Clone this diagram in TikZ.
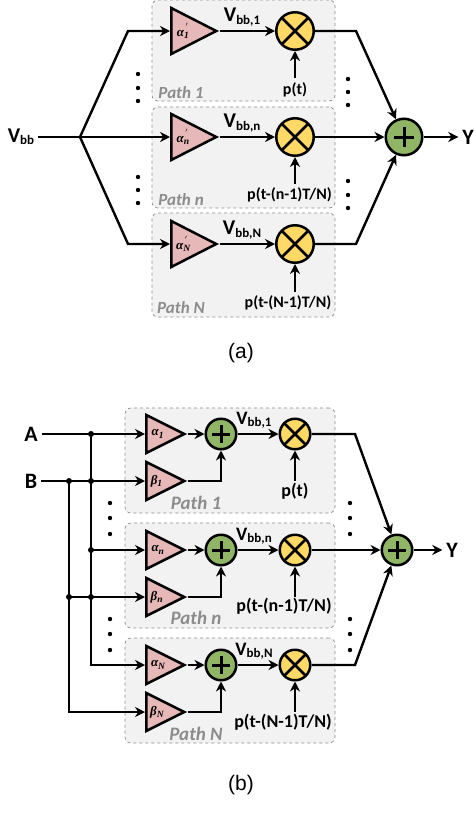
\documentclass[tikz,border=0pt]{standalone}
\usepackage{fontspec}
\setmainfont{Carlito}
\newfontfamily\capfont{Liberation Sans}
\newfontfamily\symfont{Liberation Serif}
\usetikzlibrary{arrows.meta, shapes.geometric}
\definecolor{boxfill}{HTML}{F2F2F2}
\definecolor{boxedge}{HTML}{8C8C8C}
\definecolor{gainfill}{HTML}{E6B8B7}
\definecolor{mixfill}{HTML}{FFD966}
\definecolor{sumfill}{HTML}{8FB565}
\newcommand{\vsig}[1]{V{\fontsize{13}{14}\selectfont\raisebox{-0.35ex}{#1}}}
\newcommand{\gsub}[1]{\raisebox{-0.4ex}{\fontsize{9.5}{10}\selectfont #1}}
\newcommand{\galpha}[1]{{\symfont\bfseries\itshape α\gsub{#1}}}
\newcommand{\gbeta}[1]{{\symfont\bfseries\itshape β\gsub{#1}}}
\newcommand{\gprime}[1]{{\symfont\bfseries\itshape α\rlap{\raisebox{1ex}{\fontsize{9}{10}\selectfont\,$'$}}\gsub{#1}}}
\tikzset{
    sig/.style={line width=2.4pt, draw=black, -{Stealth[length=10pt,width=10pt]}},
    wire/.style={line width=2.4pt, draw=black},
    pathbox/.style={draw=boxedge, fill=boxfill, dashed, line width=0.7pt, rounded corners=6pt, inner sep=0pt},
    pathname/.style={text=boxedge, font=\bfseries\itshape\fontsize{#1}{#1}\selectfont, inner sep=0pt},
    gainbig/.style={isosceles triangle, isosceles triangle stretches, draw=black, fill=gainfill, line width=2.5pt,
        minimum width=46pt, minimum height=45pt, inner sep=0pt, anchor=lower side, font=\fontsize{13}{14}\selectfont},
    gainsmall/.style={gainbig, minimum width=38pt, minimum height=38pt},
    mixer/.style={circle, draw=black, fill=mixfill, line width=2.5pt, minimum size=#1, inner sep=0pt,
        path picture={\draw[line width=2.5pt] (path picture bounding box.north west) -- (path picture bounding box.south east)
            (path picture bounding box.north east) -- (path picture bounding box.south west);}},
    adder/.style={circle, draw=black, fill=sumfill, line width=2.5pt, minimum size=#1, inner sep=0pt,
        path picture={\draw[line width=3pt] ([xshift=-0.28*#1]path picture bounding box.center) -- ([xshift=0.28*#1]path picture bounding box.center)
            ([yshift=-0.28*#1]path picture bounding box.center) -- ([yshift=0.28*#1]path picture bounding box.center);}},
    siglabel/.style={font=\bfseries\fontsize{#1}{#1}\selectfont, inner sep=0pt, outer sep=4pt},
}
\begin{document}
\begin{tikzpicture}[x=1pt, y=-1pt]
    \useasboundingbox (0,0) rectangle (474,825);

    % Shaded path boxes of (a)
    \node[pathbox, minimum width=183pt, minimum height=101pt] (boxa1) at (243.5,50.5) {};
    \node[pathbox, minimum width=183pt, minimum height=101pt] (boxa2) at (243.5,157.5) {};
    \node[pathbox, minimum width=183pt, minimum height=104pt] (boxa3) at (243.5,265) {};
    \node[pathname=17] (namea1) at (181,93) {Path 1};
    \node[pathname=17] (namea2) at (181,200) {Path n};
    \node[pathname=17] (namea3) at (181,308) {Path N};

    % Input, output and split points of (a)
    \node[siglabel=21] (vbb) at (21,137) {\vsig{bb}};
    \node[adder=36.5pt] (suma) at (404,137) {};
    \node[siglabel=22] (ya) at (468,137) {Y};
    \coordinate (split) at (80,137);
    \draw[wire] (vbb) -- (split);
    \draw[sig] (suma) -- (ya);

    % One row per path of (a)
    \foreach \k/\y/\gain/\sig/\pstart/\ptext/\py/\px in {
        1/31/{\gprime{1}}/{bb,1}/78/{p(t)}/90/295,
        2/137/{\gprime{n}}/{bb,n}/184/{p(t-(n-1)T/N)}/195/289.5,
        3/244/{\gprime{N}}/{bb,N}/292/{p(t-(N-1)T/N)}/303/288} {
        \node[gainbig] (ga\k) at (170,\y) {\gain};
        \node[mixer=37.5pt] (mxa\k) at (295,\y) {};
        \node[siglabel=21] (va\k) at (242,\y-14) {\vsig{\sig}};
        \node[siglabel=16] (pa\k) at (\px,\py) {\ptext};
        \coordinate (pina\k) at (295,\pstart);
        \draw[sig] (ga\k.apex) -- (mxa\k);
        \draw[sig] (pina\k) -- (mxa\k);
    }

    % Fan out and fan in of (a)
    \coordinate (ain1) at (128,31);
    \coordinate (ain3) at (128,244);
    \coordinate (aout1) at (356,31);
    \coordinate (aout3) at (356,244);
    \draw[sig] (split) -- (ain1) -- (ga1.lower side);
    \draw[sig] (split) -- (ga2.lower side);
    \draw[sig] (split) -- (ain3) -- (ga3.lower side);
    \draw[sig] (mxa1) -- (aout1) -- (suma);
    \draw[sig] (mxa2) -- (suma);
    \draw[sig] (mxa3) -- (aout3) -- (suma);

    % Dots between the paths of (a)
    \foreach \x/\y in {138/74, 138/88, 138/101, 138/177, 138/190, 138/203,
        348/79, 348/92, 348/105, 348/181, 348/195, 348/208} {
        \fill (\x,\y) circle (2.2pt);
    }
    \node[font=\capfont\fontsize{21}{22}\selectfont, inner sep=0pt] (capa) at (241,353) {(a)};

    % Shaded path boxes of (b)
    \node[pathbox, minimum width=210pt, minimum height=105pt] (boxb1) at (230,460.5) {};
    \node[pathbox, minimum width=210pt, minimum height=105pt] (boxb2) at (230,575.5) {};
    \node[pathbox, minimum width=210pt, minimum height=105pt] (boxb3) at (230,690.5) {};
    \node[pathname=19] (nameb1) at (196,503) {Path 1};
    \node[pathname=19] (nameb2) at (196,618) {Path n};
    \node[pathname=19] (nameb3) at (196,734) {Path N};

    % Inputs and outputs of (b)
    \node[siglabel=22] (ina) at (31,434) {A};
    \node[siglabel=22] (inb) at (31,481) {B};
    \node[adder=30.5pt] (sumb) at (397,550) {};
    \node[siglabel=22] (yb) at (452,550) {Y};
    \draw[sig] (sumb) -- (yb);

    % One row per path of (b)
    \foreach \k/\y/\z/\again/\bgain/\sig/\ptext/\px/\pn in {
        1/434/481/{\galpha{1}}/{\gbeta{1}}/{bb,1}/{p(t)}/295/491,
        2/550/597/{\galpha{n}}/{\gbeta{n}}/{bb,n}/{p(t-(n-1)T/N)}/284/606,
        3/665/712/{\galpha{N}}/{\gbeta{N}}/{bb,N}/{p(t-(N-1)T/N)}/283/722} {
        \node[gainsmall] (gab\k) at (145,\y) {\again};
        \node[gainsmall] (gbb\k) at (145,\z) {\bgain};
        \node[adder=30.5pt] (sb\k) at (221,\y) {};
        \node[mixer=30.5pt] (mxb\k) at (295,\y) {};
        \node[siglabel=19] (vb\k) at (254,\y-14) {\vsig{\sig}};
        \node[siglabel=18] (pb\k) at (\px,\pn) {\ptext};
        \coordinate (turnb\k) at (221,\z);
        \coordinate (pinb\k) at (295,\z);
        \draw[sig] (gab\k.apex) -- (sb\k);
        \draw[sig] (gbb\k.apex) -- (turnb\k) -- (sb\k);
        \draw[sig] (sb\k) -- (mxb\k);
        \draw[sig] (pinb\k) -- (mxb\k);
    }

    % Bus lines of (b)
    \coordinate (ataplo) at (91,665);
    \coordinate (btap) at (69,481);
    \coordinate (btaplo) at (69,712);
    \coordinate (atap) at (91,434);
    \coordinate (atap2) at (91,550);
    \coordinate (btap2) at (69,597);
    \draw[sig] (ina) -- (gab1.lower side);
    \draw[sig] (inb) -- (gbb1.lower side);
    \draw[sig] (atap) -- (ataplo) -- (gab3.lower side);
    \draw[sig] (btap) -- (btaplo) -- (gbb3.lower side);
    \draw[sig] (atap2) -- (gab2.lower side);
    \draw[sig] (btap2) -- (gbb2.lower side);
    \foreach \x/\y in {91/434, 91/481, 91/550, 91/597, 69/481, 69/597} {
        \fill (\x,\y) circle (3pt);
    }

    % Fan in of (b)
    \coordinate (bout1) at (355,434);
    \coordinate (bout3) at (355,665);
    \draw[sig] (mxb1) -- (bout1) -- (sumb);
    \draw[sig] (mxb2) -- (sumb);
    \draw[sig] (mxb3) -- (bout3) -- (sumb);

    % Dots between the paths of (b)
    \foreach \x in {110, 350} {
        \foreach \y in {503, 518, 534, 619, 634, 650} {
            \fill (\x,\y) circle (2.2pt);
        }
    }
    \node[font=\capfont\fontsize{21}{22}\selectfont, inner sep=0pt] (capb) at (241,785) {(b)};
\end{tikzpicture}
\end{document}
